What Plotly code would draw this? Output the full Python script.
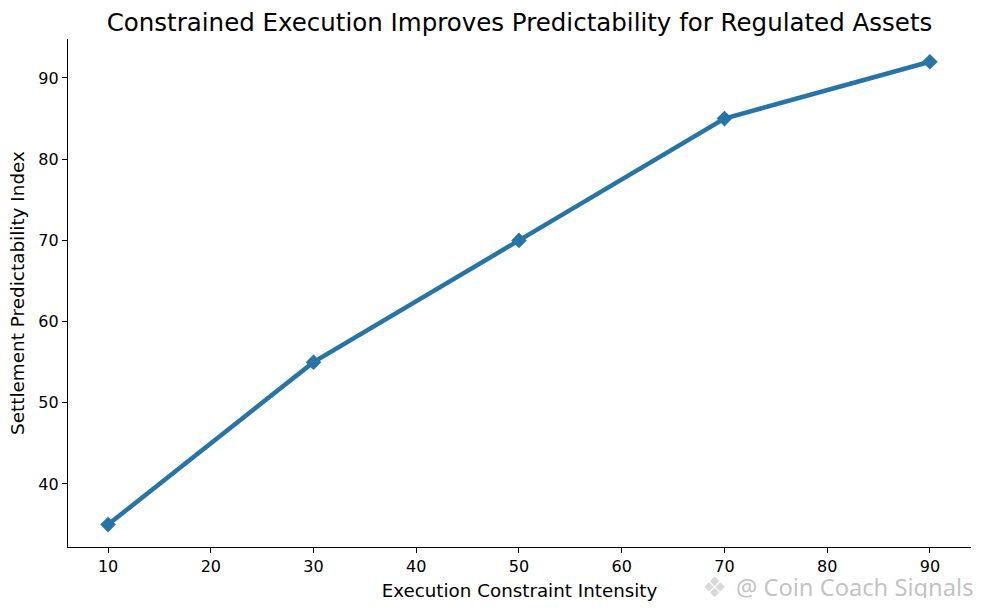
import plotly.graph_objects as go

intensity = [10, 30, 50, 70, 90]
predictability = [35, 55, 70, 85, 92]
x_ticks = [10, 20, 30, 40, 50, 60, 70, 80, 90]
y_ticks = [40, 50, 60, 70, 80, 90]
title = "Constrained Execution Improves Predictability for Regulated Assets"
x_label = "Execution Constraint Intensity"
y_label = "Settlement Predictability Index"
watermark = "@ Coin Coach Signals"
watermark_icon = "❖"

FONT = "DejaVu Sans"
COLOR = "#2774a8"
fig = go.Figure(go.Scatter(x=intensity, y=predictability, mode="lines+markers",
    line=dict(color=COLOR, width=4.5), marker=dict(symbol="diamond", size=12, color=COLOR)))
axis = dict(showgrid=False, zeroline=False, showline=True, linecolor="black", linewidth=1.2,
            ticks="outside", ticklen=5, tickcolor="black", tickwidth=1.2,
            tickfont=dict(family=FONT, size=16, color="black"))
fig.update_layout(
    width=981, height=611, autosize=False, paper_bgcolor="white", plot_bgcolor="white", showlegend=False,
    margin=dict(l=68, r=10, t=39, b=64),
    title=dict(text=title, x=0.5, xanchor="center", xref="paper", y=0.963, yanchor="middle",
               font=dict(family=FONT, size=24.5, color="black")),
    xaxis=dict(axis, range=[6.1, 94], tickvals=x_ticks,
               title=dict(text=x_label, font=dict(family=FONT, size=18.3, color="black"), standoff=8)),
    yaxis=dict(axis, range=[32.24, 94.8], tickvals=y_ticks,
               title=dict(text=y_label, font=dict(family=FONT, size=18.4, color="black"), standoff=8)),
    annotations=[
        dict(text=watermark, xref="paper", yref="paper", x=1.004, y=-0.078, xanchor="right", yanchor="middle",
             height=22, valign="middle", borderpad=0, showarrow=False,
             font=dict(family="Noto Sans", size=23.7, color="rgba(160,160,160,0.65)")),
        dict(text=watermark_icon, xref="paper", yref="paper", x=0.716, y=-0.078, xanchor="center", yanchor="middle",
             height=22, valign="middle", borderpad=0, showarrow=False,
             font=dict(family="DejaVu Sans", size=28, color="rgba(190,190,190,0.6)")),
    ],
)
fig.write_html("out.html", config=dict(displayModeBar=False), post_script="document.body.style.margin='0';")
